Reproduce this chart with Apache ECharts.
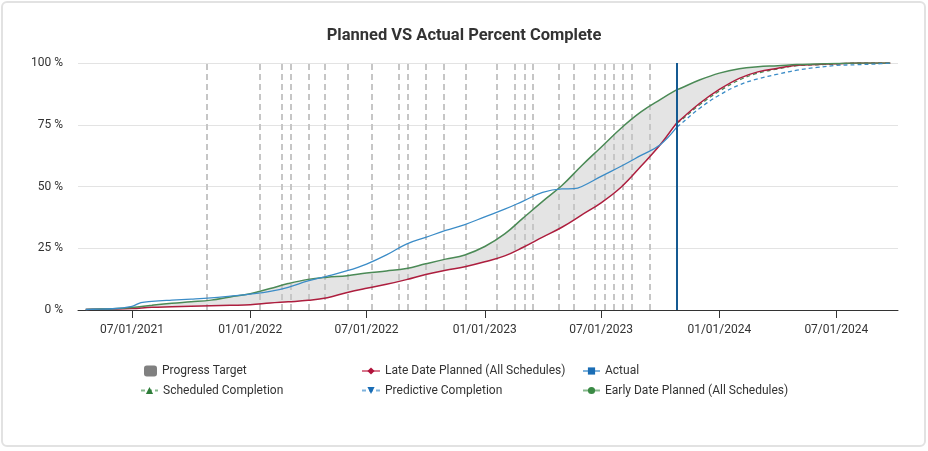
<!DOCTYPE html>
<html><head><meta charset="utf-8">
<script src="https://cdn.jsdelivr.net/npm/echarts@6/dist/echarts.min.js"></script>
<style>
html,body{margin:0;padding:0;background:#fff;}
#chart{position:absolute;left:0;top:0;width:928px;height:451px;}
#frame{position:absolute;left:1px;top:1px;width:925px;height:446px;box-sizing:border-box;border:2px solid #e2e2e2;border-radius:6px;pointer-events:none;}
</style></head><body>
<div id="chart"></div><div id="frame"></div>
<script>
// ---- data ----
const planDates = ['2021-04-20','2021-05-01','2021-06-01','2021-07-01','2021-08-01','2021-09-01','2021-10-01','2021-11-01','2021-12-01',
  '2022-01-01','2022-02-01','2022-03-01','2022-04-01','2022-05-01','2022-06-01','2022-07-01','2022-08-01','2022-09-01','2022-10-01','2022-11-01','2022-12-01',
  '2023-01-01','2023-02-01','2023-03-01','2023-04-01','2023-05-01','2023-06-01','2023-07-01','2023-08-01','2023-09-01','2023-10-01','2023-10-27','2023-11-01','2023-12-01',
  '2024-01-01','2024-02-01','2024-03-01','2024-04-01','2024-05-01','2024-06-01','2024-07-01','2024-08-01','2024-09-01','2024-09-23'];
const earlyPlanned = [0.2,0.3,0.5,1.0,1.9,2.7,3.3,4.0,5.3,
  6.6,8.7,10.7,12.4,13.3,13.9,15.0,15.8,16.8,18.7,20.6,22.3,
  25.7,30.8,37.1,44.0,50.4,58.5,65.9,73.6,80.2,85.2,89.2,89.7,93.1,
  95.9,97.7,98.5,98.9,99.4,99.6,99.8,100,100,100];
const latePlanned = [0.2,0.3,0.4,0.6,1.1,1.3,1.5,1.7,1.9,
  2.1,2.8,3.3,3.9,5.0,7.1,8.8,10.4,12.3,14.4,16.1,17.5,
  19.5,21.9,25.3,29.5,33.5,38.5,43.4,49.7,58.2,66.9,75.8,76.9,83.6,
  89.3,93.8,96.4,97.9,99.1,99.4,99.7,100,100,100];
const actualDates = ['2021-04-20','2021-05-01','2021-06-01','2021-07-01','2021-07-15','2021-08-01','2021-09-01','2021-10-01','2021-11-01','2021-12-01',
  '2022-01-01','2022-02-01','2022-03-01','2022-04-01','2022-05-01','2022-06-01','2022-07-01','2022-08-01','2022-09-01','2022-10-01','2022-11-01','2022-12-01',
  '2023-01-01','2023-02-01','2023-03-01','2023-04-01','2023-05-01','2023-05-20','2023-06-01','2023-07-01','2023-08-01','2023-09-01','2023-10-01','2023-10-27'];
const actualValues = [0.2,0.3,0.5,1.5,3.0,3.5,4.0,4.4,4.9,5.6,
  6.4,7.5,9.2,11.8,13.7,15.9,18.6,22.3,26.7,29.4,32.2,34.6,
  37.7,40.8,44.0,47.6,49.0,49.1,50.0,54.1,58.2,62.6,66.9,74.1];
const forecastDates = ['2023-10-27','2023-11-01','2023-12-01','2024-01-01','2024-02-01','2024-03-01','2024-04-01','2024-05-01','2024-06-01','2024-07-01','2024-08-01','2024-09-01','2024-09-23'];
const predictiveValues = [74.1,75.1,81.6,87.0,91.1,93.6,95.5,97.1,98.2,99.0,99.3,99.6,100];
const scheduledValues = [75.6,76.5,83.0,88.6,93.1,95.9,97.6,98.9,99.3,99.6,100,100,100];
const progressTargetDates = ['2021-10-26','2022-01-16','2022-02-19','2022-03-05','2022-04-02','2022-04-27','2022-06-02','2022-07-09',
  '2022-08-20','2022-09-03','2022-10-01','2022-10-29','2022-12-02','2023-01-20','2023-02-17','2023-03-04','2023-03-17',
  '2023-04-26','2023-05-20','2023-06-21','2023-07-07','2023-07-21','2023-08-04','2023-08-18','2023-09-15'];
const dataDate = '2023-10-27';
const xTickDates = ['2021-07-01','2022-01-01','2022-07-01','2023-01-01','2023-07-01','2024-01-01','2024-07-01'];
const xRange = ['2021-04-08','2024-10-05'];
const yTicks = [0,25,50,75,100];

// ---- build ----
const T = s => echarts.time.parse(s).getTime();
const zip = (d, v) => d.map((x, i) => [T(x), v[i]]);
// value-first rows so that the stack is applied to the percent dimension
const zipValueFirst = (d, v) => d.map((x, i) => [v[i], T(x)]);
const bandDiff = earlyPlanned.map((v, i) => +(v - latePlanned[i]).toFixed(2));
const FONT = '"Segoe UI", Roboto, sans-serif';
const txt = { color: '#333', fontSize: 12, fontFamily: FONT };

function leg(item, left, top, opts) {
  return Object.assign({
    show: true, orient: 'horizontal', left: left, top: top, padding: 0,
    itemWidth: 18, itemHeight: 9, textStyle: txt, selectedMode: false,
    data: [item]
  }, opts || {});
}

const chart = echarts.init(document.getElementById('chart'), null, { renderer: 'canvas' });
chart.setOption({
  animation: false,
  title: { text: 'Planned VS Actual Percent Complete', left: 'center', top: 27, padding: 0,
    textStyle: { fontSize: 16.5, fontWeight: 'bold', color: '#333', fontFamily: FONT } },
  grid: { left: 78, right: 30, top: 63, bottom: 141, containLabel: false },
  legend: [
    leg({ name: 'Progress Target', icon: 'roundRect', itemStyle: { color: '#808080' } }, 144, 365, { itemWidth: 13, itemHeight: 11 }),
    leg({ name: 'Scheduled Completion', itemStyle: { color: '#2f7d3a' }, lineStyle: { color: '#86b98d' } }, 140, 384.5, { itemWidth: 17 }),
    leg({ name: 'Late Date Planned (All Schedules)', itemStyle: { color: '#b0123a' }, lineStyle: { color: '#d9768c' } }, 361, 365),
    leg({ name: 'Predictive Completion', itemStyle: { color: '#1a6db5' }, lineStyle: { color: '#7fb3dd' } }, 361, 384.5),
    leg({ name: 'Actual', itemStyle: { color: '#1a6db5' }, lineStyle: { color: '#7fb3dd' } }, 582, 365, { itemWidth: 17 }),
    leg({ name: 'Early Date Planned (All Schedules)', itemStyle: { color: '#3a8a44' }, lineStyle: { color: '#86b98d' } }, 582, 384.5, { itemWidth: 17 })
  ],
  xAxis: {
    type: 'value', min: T(xRange[0]), max: T(xRange[1]), scale: true,
    axisLine: { show: true, onZero: false, lineStyle: { color: '#333', width: 1 } },
    axisTick: { show: true, length: 8, lineStyle: { color: '#333' }, customValues: xTickDates.map(T) },
    axisLabel: { ...txt, margin: 14, customValues: xTickDates.map(T),
      formatter: v => echarts.time.format(v, '{MM}/{dd}/{yyyy}', false) },
    splitLine: { show: false }
  },
  yAxis: {
    type: 'value', min: yTicks[0], max: yTicks[yTicks.length - 1], interval: yTicks[1] - yTicks[0],
    axisLine: { show: false }, axisTick: { show: false },
    axisLabel: { ...txt, margin: 15, formatter: '{value} %' },
    splitLine: { lineStyle: { color: '#e3e3e3', width: 1 } }
  },
  series: [
    { name: '__base', type: 'line', stack: 'band', dimensions: ['pct', 'date'], encode: { x: 1, y: 0 },
      data: zipValueFirst(planDates, latePlanned), smooth: 0.4,
      symbol: 'none', lineStyle: { width: 0, opacity: 0 }, silent: true, z: 1 },
    { name: 'Progress Target', type: 'line', stack: 'band', dimensions: ['pct', 'date'], encode: { x: 1, y: 0 },
      data: zipValueFirst(planDates, bandDiff), smooth: 0.4,
      symbol: 'none', lineStyle: { width: 0, opacity: 0 }, itemStyle: { color: '#808080' },
      areaStyle: { color: '#e4e4e4', opacity: 1 }, silent: true, z: 1,
      markLine: { silent: true, symbol: 'none', z: 1.5, label: { show: false },
        lineStyle: { color: '#c6c6c6', width: 2, type: [6, 4] },
        data: progressTargetDates.map(d => ({ xAxis: T(d) })) } },
    { name: 'Late Date Planned (All Schedules)', type: 'line', data: zip(planDates, latePlanned), smooth: 0.4,
      symbol: 'diamond', showSymbol: false, color: '#b0123a', lineStyle: { width: 1.5, color: '#ad1e3e' }, z: 3 },
    { name: 'Early Date Planned (All Schedules)', type: 'line', data: zip(planDates, earlyPlanned), smooth: 0.4,
      symbol: 'circle', showSymbol: false, color: '#3a8a44', lineStyle: { width: 1.5, color: '#4b8a56' }, z: 3 },
    { name: 'Actual', type: 'line', data: zip(actualDates, actualValues), smooth: 0.4,
      symbol: 'rect', showSymbol: false, color: '#1a6db5', lineStyle: { width: 1.3, color: '#3b8cc7' }, z: 3,
      markLine: { silent: true, symbol: 'none', z: 6, label: { show: false },
        lineStyle: { color: '#155a92', width: 2, type: 'solid' },
        data: [{ xAxis: T(dataDate) }] } },
    { name: 'Predictive Completion', type: 'line', data: zip(forecastDates, predictiveValues), smooth: 0.4,
      symbol: 'triangle', symbolRotate: 180, showSymbol: false, color: '#1a6db5',
      lineStyle: { width: 1.3, color: '#3b8cc7', type: [4, 3] }, z: 3 },
    { name: 'Scheduled Completion', type: 'line', data: zip(forecastDates, scheduledValues), smooth: 0.4,
      symbol: 'triangle', showSymbol: false, color: '#2f7d3a',
      lineStyle: { width: 1.3, color: '#4b8a56', type: [4, 3] }, z: 2.5 }
  ]
});
</script>
</body></html>
